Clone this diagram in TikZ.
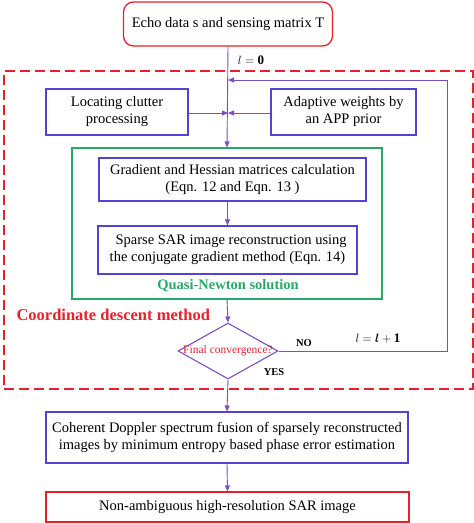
\documentclass[tikz,border=0pt]{standalone}
\usepackage{amsmath,amssymb,bm}
\usepackage{fontspec}
\setmainfont{Liberation Serif}
\usetikzlibrary{arrows.meta,shapes.geometric}
\definecolor{EdgeRed}{HTML}{E8202C}
\definecolor{BoxBlue}{HTML}{5243D6}
\definecolor{FlowPurple}{HTML}{7A4FC2}
\definecolor{QnGreen}{HTML}{27A868}
\newcommand{\boxfont}{\fontsize{14.5}{17}\selectfont}
\newcommand{\tagfont}{\fontsize{10.5}{12}\selectfont\bfseries}

\begin{document}
\begin{tikzpicture}[x=1pt,y=-1pt,>=Latex,
    procbox/.style={draw=BoxBlue,line width=1.1pt,inner sep=0pt,align=center,font=\boxfont},
    endbox/.style={draw=EdgeRed,line width=1.3pt,inner sep=0pt,align=center,font=\boxfont},
    flow/.style={draw=FlowPurple,line width=0.9pt,-{Triangle[length=6pt,width=5pt]}},
    decision/.style={diamond,draw=FlowPurple,line width=1.1pt,inner sep=0pt}]
  \useasboundingbox (0,0) rectangle (474,523);
  % frames
  \node[draw=EdgeRed,dashed,dash pattern=on 10pt off 5pt,line width=2pt,minimum width=469pt,minimum height=318pt] (cdm) at (238,230) {};
  \node[draw=QnGreen,line width=1.1pt,minimum width=310pt,minimum height=151pt] (qn) at (227,223.5) {};
  \node[font=\boxfont\bfseries,text=QnGreen] (qnlabel) at (228,286) {Quasi-Newton solution};
  \node[font=\fontsize{16.5}{19}\selectfont\bfseries,text=EdgeRed,anchor=west] (cdmlabel) at (13,315) {Coordinate descent method};
  % boxes
  \node[endbox,rounded corners=10pt,minimum width=209pt,minimum height=44pt] (echo) at (228,24) {Echo data s and sensing matrix T};
  \node[procbox,minimum width=142pt,minimum height=46pt] (clutter) at (117,112) {Locating clutter\\processing};
  \node[procbox,minimum width=145pt,minimum height=46pt] (weights) at (343.5,112) {Adaptive weights by\\an APP prior};
  \node[procbox,minimum width=267pt,minimum height=43pt] (grad) at (232.5,179.5) {Gradient and Hessian matrices calculation\\(Eqn. 12 and Eqn. 13 )};
  \node[procbox,minimum width=259pt,minimum height=48pt] (sparse) at (227.5,250) {\ \ Sparse SAR image reconstruction using\\the conjugate gradient method (Eqn. 14)};
  \node[decision,minimum width=100pt,minimum height=56pt] (conv) at (228,351) {};
  \node[font=\fontsize{11.5}{13}\selectfont,text=EdgeRed] (convtext) at (conv) {Final convergence?};
  \node[procbox,minimum width=362pt,minimum height=51pt] (fusion) at (227,437.5) {Coherent Doppler spectrum fusion of sparsely reconstructed\\images by minimum entropy based phase error estimation};
  \node[endbox,minimum width=363pt,minimum height=30pt] (result) at (227.5,507) {Non-ambiguous high-resolution SAR image};
  % junctions on the main line
  \coordinate (jloop) at (228,80);
  \coordinate (jmid) at (228,113);
  \coordinate (loopc) at (447,80);
  % connectors
  \draw[flow] (echo.south) -- (qn.north);
  \draw[flow] (clutter.east |- jmid) -- (jmid);
  \draw[flow] (weights.west |- jmid) -- (jmid);
  \draw[flow] (conv.east) -| (loopc) -- (jloop);
  \draw[flow] (grad.south -| sparse.north) -- (sparse.north);
  \draw[flow] (qn.south) -- (conv.north);
  \draw[flow] (conv.south) -- (fusion.north);
  \draw[flow] (fusion.south) -- (result.north);
  % labels
  \node[font=\fontsize{13}{15}\selectfont] (lzero) at (251,60) {$l=\mathbf{0}$};
  \node[font=\fontsize{13}{15}\selectfont] (lnext) at (378,339) {$l=\bm{l}+\mathbf{1}$};
  \node[font=\tagfont] (nolabel) at (304,343) {NO};
  \node[font=\tagfont] (yeslabel) at (274,372) {YES};
\end{tikzpicture}
\end{document}
